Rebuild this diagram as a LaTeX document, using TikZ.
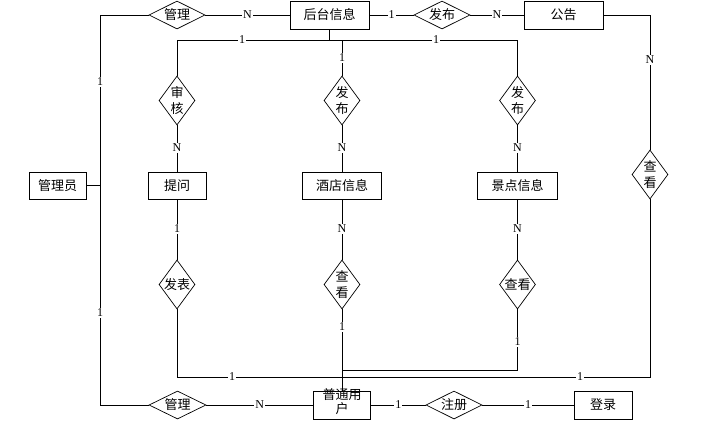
\documentclass[tikz,border=0pt]{standalone}
\usepackage{fontspec}
\setmainfont{Liberation Serif}
\newfontfamily\cjk{Noto Sans CJK SC}
\usetikzlibrary{shapes.geometric}
\begin{document}
\begin{tikzpicture}[x=1pt,y=-1pt,line width=0.7pt,
  ent/.style={draw,rectangle,inner sep=0pt,minimum height=28pt,font=\cjk\fontsize{13}{16}\selectfont},
  relw/.style={draw,diamond,inner sep=0pt,aspect=2,minimum width=56pt,minimum height=28pt,font=\cjk\fontsize{13}{16}\selectfont,align=center},
  reln/.style={draw,diamond,inner sep=0pt,aspect=0.73,minimum width=36pt,minimum height=49pt,font=\cjk\fontsize{13}{16}\selectfont,align=center},
  lbl/.style={fill=white,inner sep=1pt,font=\fontsize{12}{12}\selectfont}]
\useasboundingbox (0,0) rectangle (702,426);

% nodes
\node[relw] (mtop) at (177,15) {管理};
\node[ent,minimum width=79pt] (bg) at (329.5,15) {后台信息};
\node[relw] (fbt) at (442,15) {发布};
\node[ent,minimum width=79pt] (gg) at (563.5,15) {公告};
\node[reln] (ckR) at (650,174.5) {查\\看};
\node[ent,minimum width=57pt,minimum height=27pt] (adm) at (57.5,185.5) {管理员};
\node[reln] (sh) at (177,100.5) {审\\核};
\node[reln] (fbm) at (342,100.5) {发\\布};
\node[reln] (fbr) at (517.5,100.5) {发\\布};
\node[ent,minimum width=58pt,minimum height=27pt] (tw) at (177,185.5) {提问};
\node[ent,minimum width=79pt,minimum height=27pt] (jd) at (342,185.5) {酒店信息};
\node[ent,minimum width=80pt,minimum height=27pt] (jx) at (517.5,185.5) {景点信息};
\node[reln] (fbiao) at (177,284.5) {发表};
\node[reln] (ckm) at (342,284.5) {查\\看};
\node[reln] (ckr2) at (517.5,284.5) {查看};
\node[relw,minimum width=57pt] (mbot) at (177.5,405) {管理};
\node[ent,minimum width=57pt] (pt) at (342,405) {\raisebox{-3pt}{\smash{\begin{tabular}{@{}c@{}}普通用\\[-2pt]户\end{tabular}}}};
\node[relw] (zc) at (454,405) {注册};
\node[ent,minimum width=58pt] (dl) at (603,405) {登录};

\coordinate (L) at (100,185.5);
\coordinate (T) at (329.5,40);
\coordinate (J) at (342,377);
\coordinate (J2) at (342,370);

% connectors
\draw (mtop) -| (L);
\draw (L) |- (mbot);
\draw (adm) -- (L);
\node[lbl] at (100,82) {1};
\node[lbl] at (100,313) {1};
\draw (mtop) -- node[lbl] {N} (bg);
\draw (bg) -- node[lbl] {1} (fbt);
\draw (fbt) -- node[lbl] {N} (gg);
\draw (gg) -| (ckR);
\node[lbl] at (650,60) {N};
\draw (bg.south) -- (T);
\draw (T) -| (sh);
\draw (T) -| (fbm);
\draw (T) -| (fbr);
\node[lbl] at (242,40) {1};
\node[lbl] at (436,40) {1};
\node[lbl] at (342,58) {1};
\draw (sh) -- (tw);
\draw (fbm) -- (jd);
\draw (fbr) -- (jx);
\node[lbl] at (177,148) {N};
\node[lbl] at (342,148) {N};
\node[lbl] at (517.5,148) {N};
\draw (tw) -- (fbiao);
\draw (jd) -- (ckm);
\draw (jx) -- (ckr2);
\node[lbl] at (177,229) {1};
\node[lbl] at (342,229) {N};
\node[lbl] at (517.5,229) {N};
\draw (fbiao) |- (J);
\draw (ckR) |- (J);
\draw (ckr2) |- (J2);
\draw (ckm) -- (pt);
\node[lbl] at (232,377) {1};
\node[lbl] at (580,377) {1};
\node[lbl] at (342,327) {1};
\node[lbl] at (517.5,342) {1};
\draw (mbot) -- node[lbl] {N} (pt);
\draw (pt) -- node[lbl] {1} (zc);
\draw (zc) -- node[lbl] {1} (dl);
\end{tikzpicture}
\end{document}
